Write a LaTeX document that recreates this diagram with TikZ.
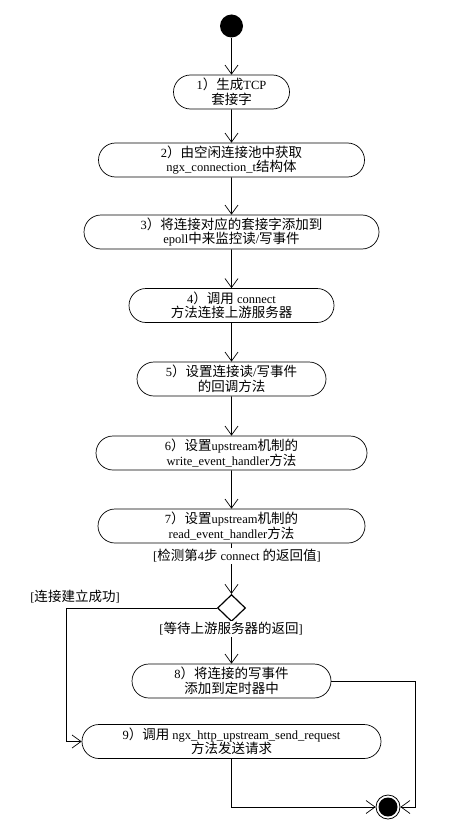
\documentclass[tikz,border=0pt]{standalone}
\usepackage{fontspec}
\setmainfont{Liberation Serif}
\newfontfamily\cjk[Scale=1.08]{Noto Sans CJK SC}
\usetikzlibrary{shapes.misc,shapes.geometric,arrows.meta}
\newcommand{\zh}[1]{{\cjk #1}}
\begin{document}
\begin{tikzpicture}[x=1pt,y=-1pt,
  act/.style={rounded rectangle, draw, line width=0.7pt, minimum height=34pt, inner sep=1pt, align=center, font=\fontsize{12.5}{14.5}\selectfont},
  flow/.style={line width=0.7pt, -{Straight Barb[length=9pt,width=13pt]}},
  guard/.style={font=\fontsize{12.5}{14.5}\selectfont, fill=white, inner sep=1pt}]
\useasboundingbox (0,0) rectangle (474,832);
\node[circle, fill=black, minimum size=23pt, inner sep=0pt] (start) at (231.5,26) {};
\node[act, minimum width=118pt] (n1) at (231.5,92) {1\zh{）生成}TCP\\\zh{套接字}};
\node[act, minimum width=268pt] (n2) at (231.5,160) {2\zh{）由空闲连接池中获取}\\ngx\_connection\_t\zh{结构体}};
\node[act, minimum width=297pt] (n3) at (231.5,232) {3\zh{）将连接对应的套接字添加到}\\epoll\zh{中来监控读}/\zh{写事件}};
\node[act, minimum width=207pt] (n4) at (231.5,305.5) {4\zh{）调用} connect\\\zh{方法连接上游服务器}};
\node[act, minimum width=191pt] (n5) at (231.5,379) {5\zh{）设置连接读}/\zh{写事件}\\\zh{的回调方法}};
\node[act, minimum width=273pt] (n6) at (231.5,453) {6\zh{）设置}upstream\zh{机制的}\\write\_event\_handler\zh{方法}};
\node[act, minimum width=269pt] (n7) at (231.5,526) {7\zh{）设置}upstream\zh{机制的}\\read\_event\_handler\zh{方法}};
\node[diamond, draw, line width=1.2pt, minimum width=28pt, minimum height=27pt, inner sep=0pt] (dia) at (231.5,608) {};
\node[act, minimum width=201pt] (n8) at (231.5,681) {8\zh{）将连接的写事件}\\\zh{添加到定时器中}};
\node[act, minimum width=301pt] (n9) at (231.5,741.5) {9\zh{）调用} ngx\_http\_upstream\_send\_request\\\zh{方法发送请求}};
\node[circle, draw, line width=0.8pt, minimum size=24pt, inner sep=0pt] (endo) at (388,807) {};
\node[circle, fill=black, minimum size=19pt, inner sep=0pt] (endi) at (388,807) {};
\coordinate (bendL) at (66,741.5);
\coordinate (bendR) at (415,807);

\draw[flow] (start) -- (n1);
\draw[flow] (n1) -- (n2);
\draw[flow] (n2) -- (n3);
\draw[flow] (n3) -- (n4);
\draw[flow] (n4) -- (n5);
\draw[flow] (n5) -- (n6);
\draw[flow] (n6) -- (n7);
\draw[flow] (n7) -- (dia);
\node[guard] (g1) at (237,556) {[\zh{检测第}4\zh{步} connect \zh{的返回值}]};
\draw[flow] (dia) -- (n8);
\node[guard] (g2) at (231,629) {[\zh{等待上游服务器的返回}]};
\draw[flow] (dia.west) -| (bendL) -- (n9.west);
\node[guard, anchor=south] (g3) at (75,604) {[\zh{连接建立成功}]};
\draw[flow] (n8.east) -| (bendR) -- (endo.east);
\draw[flow] (n9.south) |- (endo.west);
\end{tikzpicture}
\end{document}
